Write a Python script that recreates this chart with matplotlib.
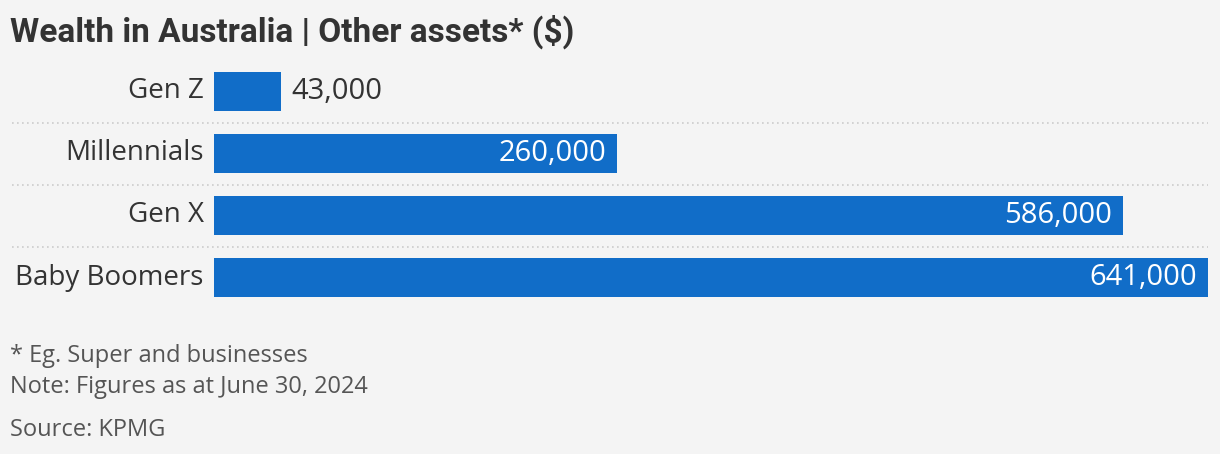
import matplotlib
matplotlib.use("Agg")
import matplotlib.pyplot as plt
from matplotlib import font_manager

# data
categories = ["Gen Z", "Millennials", "Gen X", "Baby Boomers"]
values = [43000, 260000, 586000, 641000]
value_labels = ["43,000", "260,000", "586,000", "641,000"]

title = "Wealth in Australia | Other assets* ($)"
notes = ["* Eg. Super and businesses", "Note: Figures as at June 30, 2024"]
source = "Source: KPMG"

BG = "#f4f4f4"
BAR = "#116dc8"
DARK = "#333333"
GREY = "#555555"

names = {f.name for f in font_manager.fontManager.ttflist}
title_font = ["Liberation Sans Narrow", "DejaVu Sans"] if "Liberation Sans Narrow" in names else ["Roboto", "DejaVu Sans"]
body_font = ["Open Sans", "DejaVu Sans"]

W, H = 1220, 454
fig = plt.figure(figsize=(W / 100, H / 100), dpi=100, facecolor=BG)

# axes placed in pixel terms: bars from x=214 to 1208, rows 60..308
ax = fig.add_axes([214 / W, (H - 308.5) / H, 994 / W, 248 / H])
ax.set_facecolor(BG)
ypos = list(range(len(categories)))
ax.barh(ypos, values, height=0.64, color=BAR)
ax.set_xlim(0, max(values))
ax.set_ylim(len(categories) - 0.5, -0.5)
ax.axis("off")

for y, v, lab, cat in zip(ypos, values, value_labels, categories):
    ax.annotate(cat, (0, y), xytext=(-7.5, 0), textcoords="offset points",
                ha="right", va="center", fontsize=20, color=DARK, family=body_font)
    if v < 150000:
        ax.annotate(lab, (v, y), xytext=(8, 0), textcoords="offset points",
                    ha="left", va="center", fontsize=21, color=DARK, family=body_font)
    else:
        ax.annotate(lab, (v, y), xytext=(-8, 0), textcoords="offset points",
                    ha="right", va="center", fontsize=21, color="white", family=body_font)

# dotted separators between rows
for y in ypos[:-1]:
    ax.axhline(y + 0.5, xmin=(12 - 214) / 994, xmax=1.0, color="#cccccc",
               linestyle=(0, (1, 2)), linewidth=1.2, clip_on=False)

fig.text(10 / W, 1 - 42 / H, title, ha="left", va="baseline", fontsize=24,
         fontweight="bold", color=DARK, family=title_font)
fig.text(10 / W, 1 - 362 / H, notes[0], ha="left", va="baseline", fontsize=17,
         color=GREY, family=body_font)
fig.text(10 / W, 1 - 393 / H, notes[1], ha="left", va="baseline", fontsize=17,
         color=GREY, family=body_font)
fig.text(10 / W, 1 - 436 / H, source, ha="left", va="baseline", fontsize=17,
         color=GREY, family=body_font)

fig.savefig("out.png", dpi=100, facecolor=BG)
